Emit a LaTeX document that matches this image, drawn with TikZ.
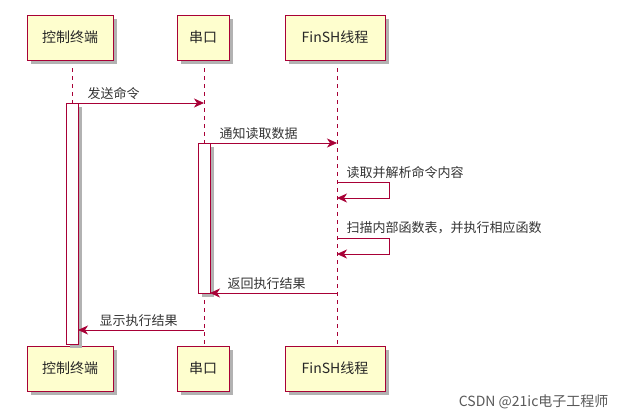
\documentclass[tikz,border=0pt]{standalone}
\usepackage{fontspec}
\setmainfont{Noto Sans CJK SC}
\usetikzlibrary{arrows.meta}
\definecolor{pu}{HTML}{A80036}
\definecolor{pf}{HTML}{FEFECE}
\begin{document}
\begin{tikzpicture}[x=1pt,y=-1pt,
 part/.style={draw=pu,fill=pf,line width=1pt,minimum height=45pt,inner sep=0pt,font=\fontsize{14}{16}\selectfont,text=black!85},
 life/.style={pu,line width=0.8pt,dash pattern=on 4pt off 4pt},
 act/.style={draw=pu,fill=white,line width=0.8pt},
 msg/.style={pu,line width=0.8pt,-{Stealth[length=10pt,width=9pt,inset=3pt]}},
 lab/.style={font=\fontsize{13}{15}\selectfont,text=black!80,inner sep=1.5pt}]
\useasboundingbox (0,0) rectangle (623,418);
\draw[life] (72,60) -- (72,345);
\draw[life] (204,60) -- (204,345);
\draw[life] (337,60) -- (337,345);
\foreach \x/\w/\y in {70/86/37.5,203/52/37.5,335/100/37.5,70/86/368.5,203/52/368.5,335/100/368.5}
  \fill[black!30] (\x-\w/2+4,\y-22.5+4) rectangle (\x+\w/2+4,\y+22.5+4);
\node[part,minimum width=86pt] (a1) at (70,37.5) {控制终端};
\node[part,minimum width=52pt] (b1) at (203,37.5) {串口};
\node[part,minimum width=100pt] (c1) at (335,37.5) {FinSH线程};
\node[part,minimum width=86pt] (a2) at (70,368.5) {控制终端};
\node[part,minimum width=52pt] (b2) at (203,368.5) {串口};
\node[part,minimum width=100pt] (c2) at (335,368.5) {FinSH线程};
\fill[black!30] (70,107) rectangle (82,348);
\fill[black!30] (202,147) rectangle (214,297);
\draw[act] (66,103) rectangle (78,344);
\draw[act] (198,143) rectangle (210,293);
\coordinate (p1) at (78,103); \coordinate (q1) at (204,103);
\draw[msg] (p1) -- (q1);
\node[lab,anchor=south west] (t1) at (86,101) {发送命令};
\coordinate (p2) at (210,143); \coordinate (q2) at (337,143);
\draw[msg] (p2) -- (q2);
\node[lab,anchor=south west] (t2) at (218,141) {通知读取数据};
\coordinate (p3) at (337,182); \coordinate (q3) at (337,198);
\draw[msg] (p3) -- (389,182) -- (389,198) -- (q3);
\node[lab,anchor=south west] (t3) at (345,180) {读取并解析命令内容};
\coordinate (p4) at (337,238); \coordinate (q4) at (337,254);
\draw[msg] (p4) -- (389,238) -- (389,254) -- (q4);
\node[lab,anchor=south west] (t4) at (345,236) {扫描内部函数表，并执行相应函数};
\coordinate (p5) at (337,293); \coordinate (q5) at (210,293);
\draw[msg] (p5) -- (q5);
\node[lab,anchor=south west] (t5) at (226,291) {返回执行结果};
\coordinate (p6) at (204,330); \coordinate (q6) at (78,330);
\draw[msg] (p6) -- (q6);
\node[lab,anchor=south west] (t6) at (98,328) {显示执行结果};
\node[font=\fontsize{14}{16}\selectfont,text=black!65,anchor=south east] (wm) at (612,412) {CSDN @21ic电子工程师};
\end{tikzpicture}
\end{document}
